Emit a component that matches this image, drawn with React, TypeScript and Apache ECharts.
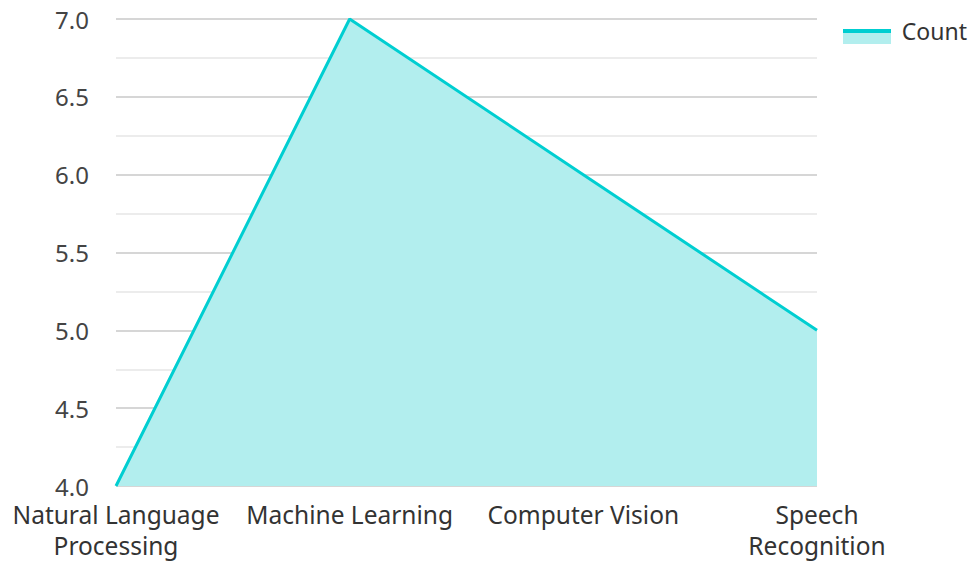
import React, { useEffect, useRef } from "react";
import * as echarts from "echarts";

const categories = ["Natural Language\nProcessing", "Machine Learning", "Computer Vision", "Speech\nRecognition"];
const counts = [4, 7, 6, 5];
const seriesName = "Count";

export default function App() {
  const ref = useRef<HTMLDivElement>(null);
  useEffect(() => {
    const chart = echarts.init(ref.current!, null, { renderer: "svg" });
    chart.setOption({
      animation: false,
      textStyle: { fontFamily: "Noto Sans" },
      legend: {
        right: 2,
        top: 14,
        itemWidth: 48,
        itemHeight: 14,
        itemGap: 10,
        icon: "rect",
        itemStyle: { color: "rgba(0,0,0,0)", borderWidth: 0 },
        lineStyle: { width: 0 },
        textStyle: { fontSize: 23, color: "#333", fontFamily: "Noto Sans" },
        data: [seriesName],
      },
      graphic: [
        { type: "rect", shape: { x: 843, y: 33, width: 48, height: 11 }, style: { fill: "#b2eeee" }, silent: true },
        { type: "line", shape: { x1: 843, y1: 31, x2: 891, y2: 31 }, style: { stroke: "#00CED1", lineWidth: 4 }, silent: true },
      ],
      grid: { left: 116, right: 157, top: 19, bottom: 76, outerBoundsMode: "none" },
      xAxis: {
        type: "category",
        data: categories,
        boundaryGap: false,
        axisLine: { show: false },
        axisTick: { show: false },
        axisLabel: {
          fontSize: 24.5,
          color: "#333",
          lineHeight: 31,
          margin: 13,
          interval: 0,
          fontFamily: "Noto Sans",
        },
      },
      yAxis: {
        type: "value",
        min: 4,
        max: 7,
        interval: 0.5,
        axisLine: { show: false },
        axisTick: { show: false },
        axisLabel: {
          fontSize: 24,
          lineHeight: 22,
          color: "#444",
          margin: 27,
          formatter: (v: number) => v.toFixed(1),
          fontFamily: "Noto Sans",
        },
        splitLine: { lineStyle: { color: "#c8c8c8", width: 1.5 } },
        minorTick: { show: false, splitNumber: 2 },
        minorSplitLine: { show: true, lineStyle: { color: "#e6e6e6", width: 1.5 } },
      },
      series: [
        {
          name: seriesName,
          type: "line",
          data: counts,
          symbol: "none",
          lineStyle: { color: "#00CED1", width: 3 },
          itemStyle: { color: "#00CED1" },
          areaStyle: { color: "#b2eeee", opacity: 1 },
        },
      ],
    });
    return () => chart.dispose();
  }, []);
  return <div ref={ref} style={{ width: 974, height: 562, position: "absolute", left: 0, top: 0 }} />;
}
